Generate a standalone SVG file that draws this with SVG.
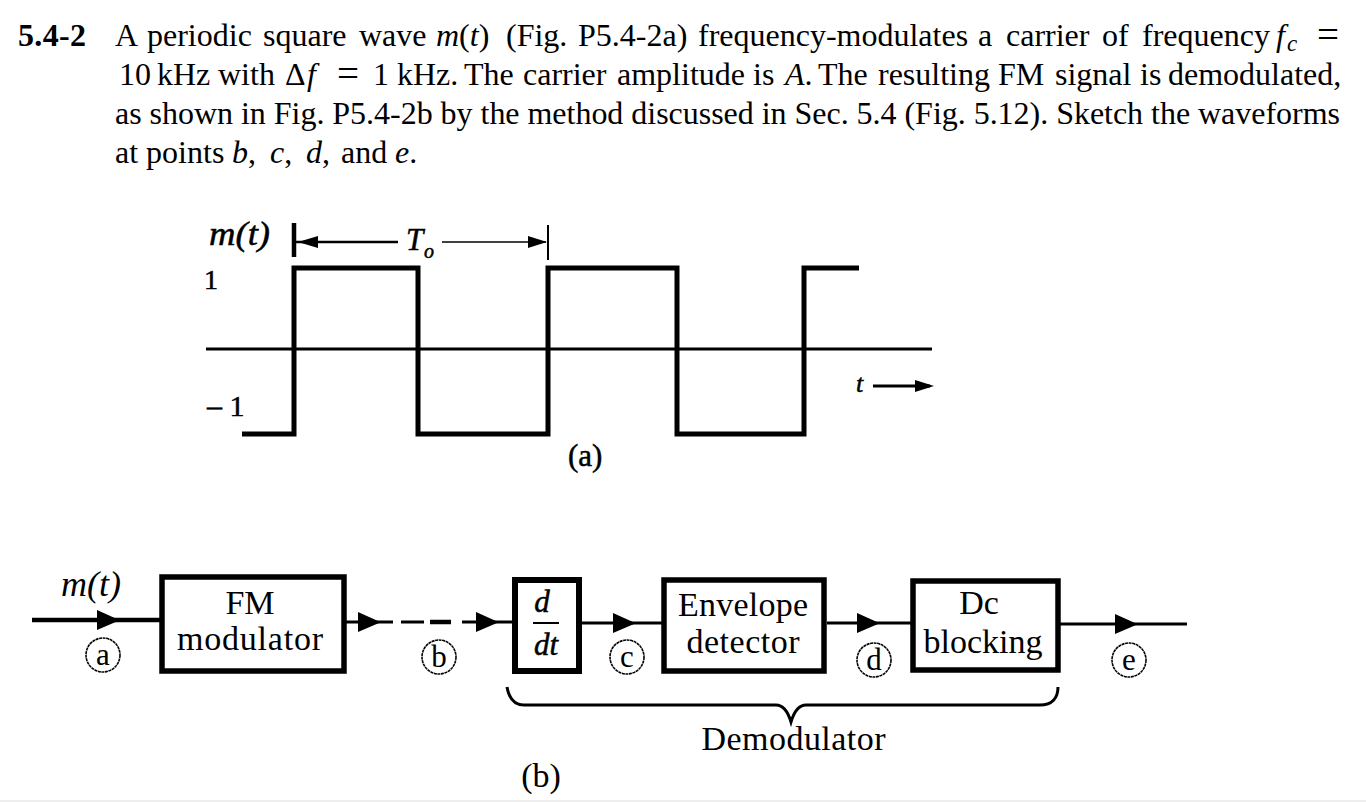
<svg xmlns="http://www.w3.org/2000/svg" width="1366" height="802" viewBox="0 0 1366 802">
<style>
text{font-family:"Liberation Serif","Times New Roman",serif;fill:#000}
.p{font-size:32px}
.q{font-size:32px}
.b{font-size:32px;font-weight:bold}
.i{font-style:italic}
.l{font-size:34px;text-anchor:middle}
.s{font-size:31px;text-anchor:middle}
.hv{stroke:#000;stroke-width:.5px}
.w{fill:none;stroke:#000;stroke-width:5;stroke-linejoin:miter}
.a{fill:none;stroke:#000;stroke-width:3}
.n{fill:#fff;stroke:#000;stroke-width:5.5}
.c{fill:none;stroke:#000;stroke-width:1.6;stroke-dasharray:3 .6}
.h{fill:#000;stroke:none}
</style>
<defs>
<polygon id="ah" class="h" points="-10,-10 10,-1 11,1 -10,10"/>
</defs>
<rect x="0" y="800" width="1366" height="2" fill="#eeeeee"/>
<g id="problem">
<text class="b" x="18" y="46" textLength="68">5.4-2</text>
<text class="q" y="46"><tspan x="115">A</tspan><tspan x="147">periodic</tspan><tspan x="263">square</tspan><tspan x="359">wave</tspan><tspan x="436" class="i">m</tspan>(<tspan class="i">t</tspan>)<tspan x="506">(Fig.</tspan><tspan x="578">P5.4-2a)</tspan><tspan x="698">frequency-modulates</tspan><tspan x="978">a</tspan><tspan x="1006">carrier</tspan><tspan x="1102">of</tspan><tspan x="1142">frequency</tspan><tspan x="1276" class="i">f</tspan><tspan x="1287" dy="5" class="i" font-size="23">c</tspan></text>
<text x="1317" y="48" font-size="39">=</text>
<text class="q" y="85"><tspan x="119">10</tspan><tspan x="157">kHz</tspan><tspan x="218">with</tspan><tspan x="285">Δ</tspan><tspan x="307" class="i">f</tspan><tspan x="373">1</tspan><tspan x="397">kHz.</tspan><tspan x="464">The</tspan><tspan x="523">carrier</tspan><tspan x="617">amplitude</tspan><tspan x="753">is</tspan><tspan x="785" class="i">A</tspan>.<tspan x="818">The</tspan><tspan x="878">resulting</tspan><tspan x="998">FM</tspan><tspan x="1055">signal</tspan><tspan x="1140">is</tspan><tspan x="1168">demodulated,</tspan></text>
<text x="337" y="87" font-size="39">=</text>
<text class="p" x="115" y="124" textLength="1225">as shown in Fig. P5.4-2b by the method discussed in Sec. 5.4 (Fig. 5.12). Sketch the waveforms</text>
<text class="p" y="163"><tspan x="115">at points</tspan><tspan x="232" class="i">b</tspan>,<tspan x="270" class="i">c</tspan>,<tspan x="306" class="i">d</tspan>,<tspan x="341">and</tspan><tspan x="395" class="i">e</tspan>.</text>
</g>
<g id="waveform">
<line class="a" x1="206" y1="349" x2="932" y2="349"/>
<polyline class="w" points="242,434 294,434 294,268 418,268 418,434 548,434 548,268 677,268 677,434 804,434 804,268 859,268"/>
<line x1="294" y1="223" x2="294" y2="257" stroke="#000" stroke-width="4.5"/>
<line x1="548" y1="225" x2="548" y2="260" stroke="#000" stroke-width="2"/>
<line x1="296" y1="242" x2="398" y2="242" stroke="#000" stroke-width="2.5"/>
<line x1="442" y1="242" x2="546" y2="242" stroke="#000" stroke-width="1.5"/>
<polygon class="h" points="298,242 318,236 318,248"/>
<polygon class="h" points="547,242 528,236 528,248"/>
<line x1="873" y1="386" x2="930" y2="386" stroke="#000" stroke-width="3"/>
<polygon class="h" points="934,386 915,380 915,392"/>
<text class="i hv" x="209" y="245" font-size="34" textLength="61" lengthAdjust="spacingAndGlyphs">m(t)</text>
<text class="hv" x="204" y="289" font-size="28">1</text>
<text class="hv" x="207" y="416" font-size="30">– 1</text>
<text class="i hv" x="406" y="250" font-size="31">T</text>
<text class="i hv" x="424" y="258" font-size="20">o</text>
<text class="i hv" x="856" y="392" font-size="26">t</text>
<text x="568" y="466" font-size="31" class="hv">(a)</text>
</g>
<g id="connectors">
<line x1="32" y1="620" x2="160" y2="620" stroke="#000" stroke-width="4.5"/>
<use href="#ah" x="107" y="620"/>
<line x1="346" y1="622" x2="393" y2="622" stroke="#000" stroke-width="3"/>
<use href="#ah" x="368" y="622"/>
<line x1="401" y1="622" x2="424" y2="622" stroke="#000" stroke-width="3"/>
<line x1="430" y1="622" x2="451" y2="622" stroke="#000" stroke-width="4.5"/>
<line x1="462" y1="622" x2="513" y2="622" stroke="#000" stroke-width="3"/>
<use href="#ah" x="486" y="622"/>
<line x1="581" y1="623" x2="663" y2="623" stroke="#000" stroke-width="3"/>
<use href="#ah" x="623" y="623"/>
<line x1="827" y1="623" x2="911" y2="623" stroke="#000" stroke-width="3"/>
<use href="#ah" x="867" y="623"/>
<line x1="1059" y1="624" x2="1187" y2="624" stroke="#000" stroke-width="3"/>
<use href="#ah" x="1125" y="624"/>
<path class="a" d="M507 687 C509 698 514 705 524 705 H776 C783 705 788 712 791 722 C794 712 799 705 806 705 H1040 C1052 705 1058 698 1058 687"/>
</g>
<g id="node-fm">
<rect class="n" x="162" y="577" width="182" height="94"/>
<text class="l" x="250" y="614">FM</text>
<text class="l" x="250" y="650" textLength="146">modulator</text>
</g>
<g id="node-diff">
<rect class="n" x="515" y="580" width="64" height="91" style="stroke-width:6"/>
<text class="s i hv" x="542" y="612">d</text>
<line x1="533" y1="623" x2="559" y2="623" stroke="#000" stroke-width="2"/>
<text class="s i hv" x="546" y="655">dt</text>
</g>
<g id="node-envelope">
<rect class="n" x="664" y="580" width="160" height="91"/>
<text class="l" x="743" y="616" textLength="130">Envelope</text>
<text class="l" x="743" y="653" textLength="113">detector</text>
</g>
<g id="node-dc">
<rect class="n" x="913" y="581" width="145" height="89"/>
<text class="l" x="979" y="614">Dc</text>
<text class="l" x="983" y="653" textLength="119">blocking</text>
</g>
<g id="point-a"><circle class="c" cx="103" cy="655" r="17"/><text class="s" x="103" y="665">a</text></g>
<g id="point-b"><circle class="c" cx="439" cy="657" r="17"/><text class="s" x="439" y="667">b</text></g>
<g id="point-c"><circle class="c" cx="627" cy="657" r="17"/><text class="s" x="627" y="667">c</text></g>
<g id="point-d"><circle class="c" cx="874" cy="660" r="17"/><text class="s" x="874" y="670">d</text></g>
<g id="point-e"><circle class="c" cx="1129" cy="660" r="17"/><text class="s" x="1129" y="670">e</text></g>
<text class="i" x="61" y="596" font-size="35" textLength="60" lengthAdjust="spacingAndGlyphs">m(t)</text>
<text class="l" x="793.5" y="750" textLength="184">Demodulator</text>
<text class="l" x="541" y="787">(b)</text>
</svg>
